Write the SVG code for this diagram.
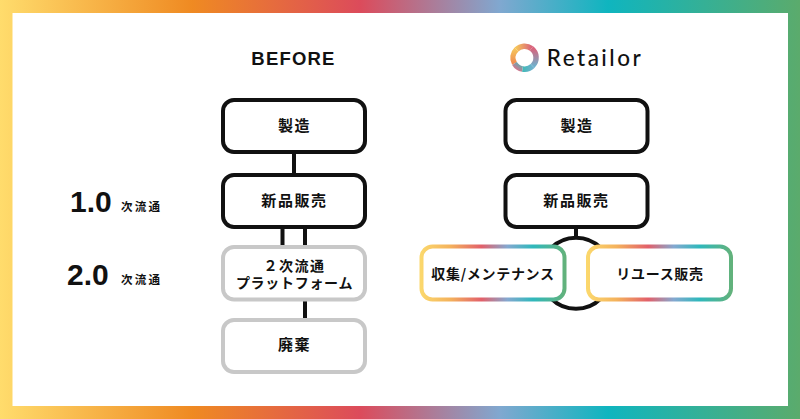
<svg xmlns="http://www.w3.org/2000/svg" width="800" height="419" viewBox="0 0 800 419">
<defs>
<linearGradient id="rb" x1="0" y1="0" x2="1" y2="0">
<stop offset="0" stop-color="#ffdc6c"/><stop offset=".24" stop-color="#ef8a22"/><stop offset=".45" stop-color="#dc4b5b"/><stop offset=".625" stop-color="#80a8d0"/><stop offset=".76" stop-color="#0fb5bf"/><stop offset="1" stop-color="#5bab6c"/>
</linearGradient>
<linearGradient id="rn" x1="0" y1="0" x2="1" y2="0">
<stop offset="0" stop-color="#fbd76c"/><stop offset=".2" stop-color="#f4b25c"/><stop offset=".42" stop-color="#e2606a"/><stop offset=".6" stop-color="#84a8d0"/><stop offset=".78" stop-color="#2fb8bc"/><stop offset="1" stop-color="#62b27c"/>
</linearGradient>
<linearGradient id="r1" x1="0" y1="1" x2="0" y2="0"><stop offset="0" stop-color="#f08a50"/><stop offset="1" stop-color="#f5c35a"/></linearGradient>
<linearGradient id="r2" x1="0" y1="0" x2="1" y2="0"><stop offset="0" stop-color="#f5c35a"/><stop offset="1" stop-color="#d9637c"/></linearGradient>
<linearGradient id="r3" x1="0" y1="0" x2="0" y2="1"><stop offset="0" stop-color="#d9637c"/><stop offset="1" stop-color="#6fb0cc"/></linearGradient>
<linearGradient id="r4" x1="1" y1="0" x2="0" y2="0"><stop offset="0" stop-color="#6fb0cc"/><stop offset="1" stop-color="#3fbab8"/></linearGradient>
<linearGradient id="r5" x1="1" y1="0" x2="0" y2="1"><stop offset="0" stop-color="#3fbab8"/><stop offset="1" stop-color="#e0708a"/></linearGradient>
</defs>
<style>
text{font-family:"Noto Sans CJK JP","Noto Sans",sans-serif;font-weight:700;fill:#111;text-anchor:middle}
.box{fill:#fff;stroke-width:4}
.k{stroke:#111}
.g{stroke:#c8c8c8}
.c{stroke:url(#rn)}
.lab{font-size:15px;letter-spacing:1.6px}
.kana{font-size:14px;letter-spacing:.7px}
.num{font-family:"Liberation Sans",Arial,sans-serif;font-size:30px;text-anchor:start}
.sub{font-size:11.5px;letter-spacing:2.2px;text-anchor:start}
.line{stroke:#111;stroke-width:4;fill:none}
.ring{fill:none;stroke-width:5.5}
</style>
<rect width="800" height="419" fill="url(#rb)"/>
<rect x="12.5" y="13" width="775.5" height="393" fill="#fff"/>
<g id="connectors">
<path class="line" d="M294 153V175M282.500 226V247M305 226V247M305 299V320M576 226V238"/>
<circle class="line" cx="576" cy="273.300" r="35.500"/>
</g>
<g id="heading-before"><text x="293.500" y="65" font-size="18.500" style="letter-spacing:1.200px;font-family:'Liberation Sans',Arial,sans-serif">BEFORE</text></g>
<g id="heading-retailor">
<path class="ring" stroke="url(#r1)" d="M514.500 63.500A11.500 11.500 0 0 1 516.500 49.500"/>
<path class="ring" stroke="url(#r2)" d="M516.500 49.500A11.500 11.500 0 0 1 531.500 48.500"/>
<path class="ring" stroke="url(#r3)" d="M531.500 48.500A11.500 11.500 0 0 1 532.500 66"/>
<path class="ring" stroke="url(#r4)" d="M532.500 66A11.500 11.500 0 0 1 522.500 69"/>
<path class="ring" stroke="url(#r5)" d="M522.500 69A11.500 11.500 0 0 1 514.500 63.500"/>
<text x="595" y="66" font-size="22.500" style="font-family:Lato,sans-serif;font-weight:500;letter-spacing:2.500px">Retailor</text>
</g>
<g id="label-1"><text class="num" x="70" y="212">1.0</text><text class="sub" x="121" y="211">次流通</text></g>
<g id="label-2"><text class="num" x="67" y="285">2.0</text><text class="sub" x="121" y="284">次流通</text></g>
<g id="b-make"><rect class="box k" x="223" y="100" width="142" height="52" rx="11"/><text class="lab" x="294.500" y="131">製造</text></g>
<g id="b-new"><rect class="box k" x="223" y="175" width="142" height="52" rx="11"/><text class="lab" x="294.500" y="206">新品販売</text></g>
<g id="b-platform"><rect class="box g" x="223" y="247" width="142" height="52.500" rx="11"/><text class="kana" x="294.500" y="271"><tspan style="letter-spacing:1.500px">２次流通</tspan><tspan x="294.500" dy="17">プラットフォーム</tspan></text></g>
<g id="b-waste"><rect class="box g" x="223" y="320" width="142" height="52" rx="11"/><text class="lab" x="294.500" y="350">廃棄</text></g>
<g id="r-make"><rect class="box k" x="505.500" y="100" width="142" height="52" rx="11"/><text class="lab" x="577" y="131">製造</text></g>
<g id="r-new"><rect class="box k" x="505.500" y="175" width="142" height="52" rx="11"/><text class="lab" x="576.500" y="206">新品販売</text></g>
<g id="r-collect"><rect class="box c" x="421.500" y="246.500" width="143" height="53" rx="11"/><text class="kana" x="493" y="279">収集/メンテナンス</text></g>
<g id="r-reuse"><rect class="box c" x="588" y="246.500" width="143" height="53" rx="11"/><text class="kana" x="660" y="279">リユース販売</text></g>
</svg>
